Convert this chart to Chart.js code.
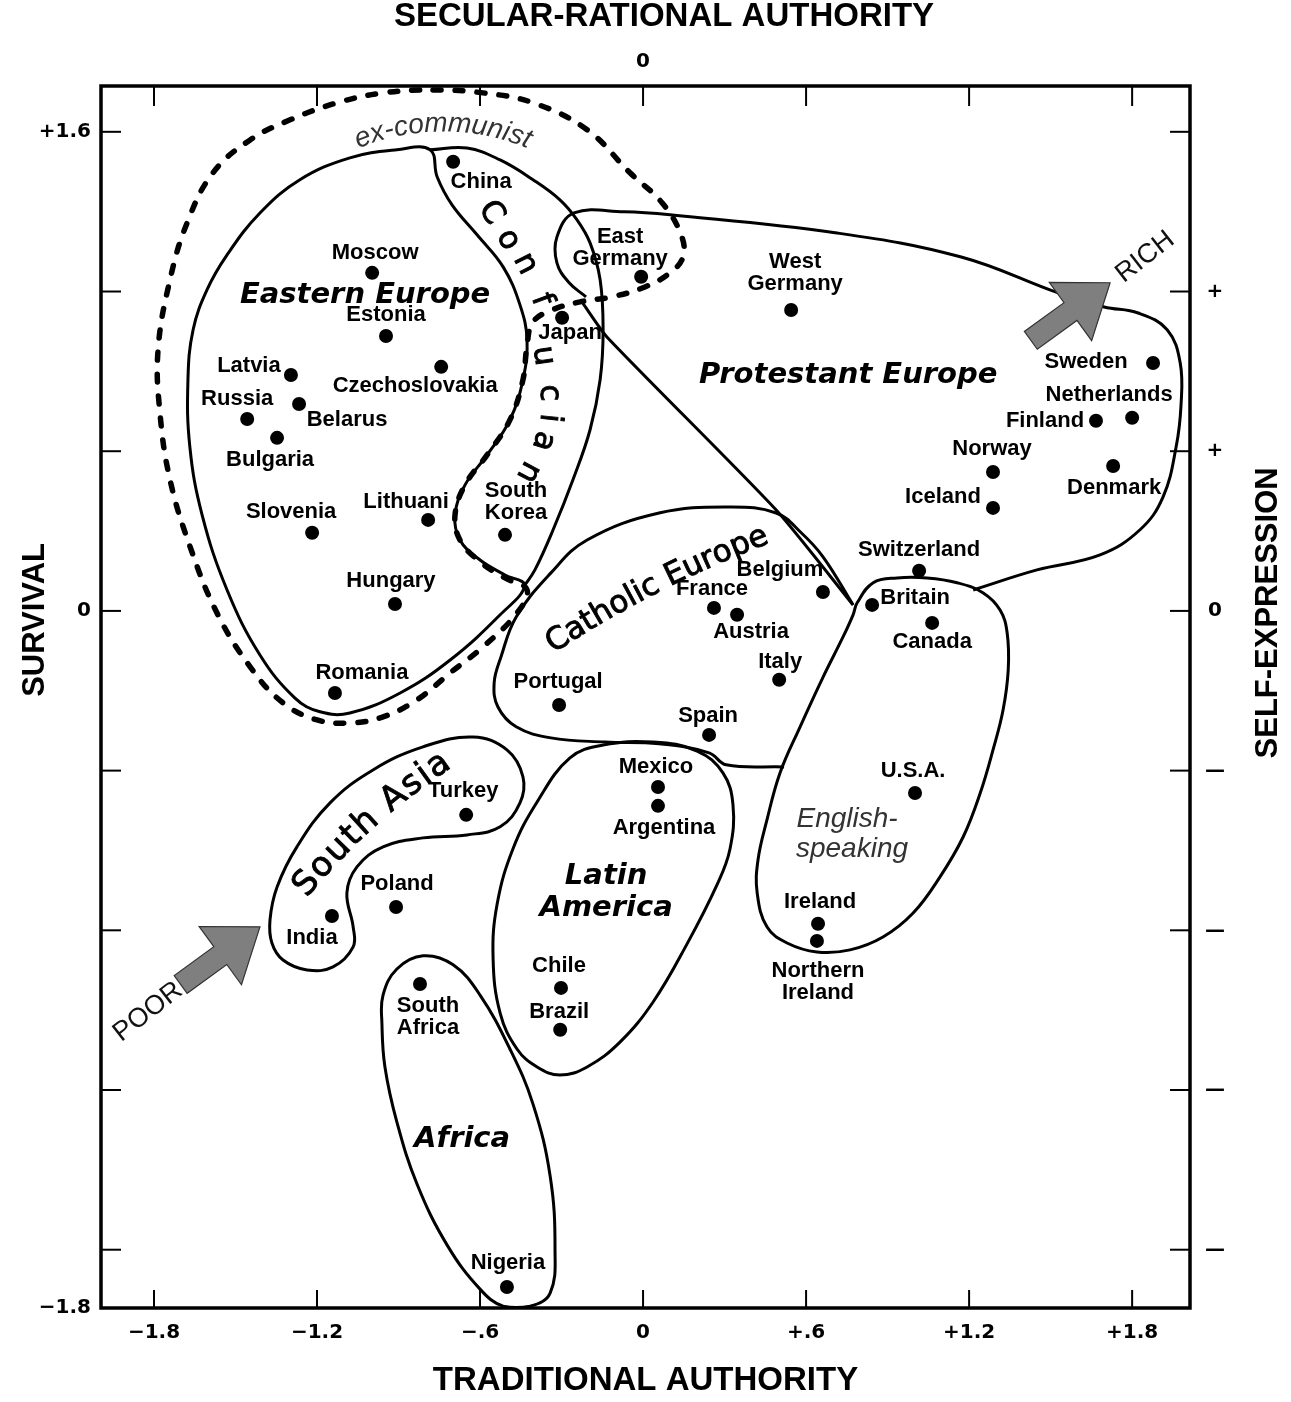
<!DOCTYPE html>
<html lang="en">
<head>
<meta charset="UTF-8">
<title>Cultural map</title>
<script src="https://cdn.jsdelivr.net/npm/chart.js"></script>
<style>
  body { margin: 0; background: #fff; }
  .wrap { width: 1291px; height: 1402px; position: relative; }
</style>
</head>
<body>
<div class="wrap"><canvas id="map"></canvas></div>
<script>
// x: survival (-) to self-expression (+), y: traditional (-) to secular-rational (+)
const countries = ['China', 'Moscow', 'Estonia', 'Czechoslovakia', 'Latvia', 'Belarus', 'Russia', 'Bulgaria',
  'Slovenia', 'Lithuani', 'South\nKorea', 'Hungary', 'Romania', 'Japan', 'East\nGermany', 'West\nGermany',
  'Sweden', 'Netherlands', 'Finland', 'Denmark', 'Norway', 'Iceland', 'Switzerland', 'Belgium', 'France',
  'Austria', 'Britain', 'Canada', 'Italy', 'Portugal', 'Spain', 'U.S.A.', 'Mexico', 'Argentina', 'Turkey',
  'Poland', 'India', 'Ireland', 'Northern\nIreland', 'Chile', 'Brazil', 'South\nAfrica', 'Nigeria'];
const survivalSelfExpression = [-0.699, -0.997, -0.946, -0.743, -1.296, -1.266, -1.457, -1.347,
  -1.218, -0.791, -0.508, -0.913, -1.134, -0.298, -0.007, 0.545,
  1.877, 1.800, 1.667, 1.730, 1.288, 1.288, 1.016, 0.662, 0.261,
  0.346, 0.843, 1.064, 0.501, -0.309, 0.243, 1.001, 0.055, 0.055, -0.651,
  -0.909, -1.145, 0.644, 0.640, -0.302, -0.305, -0.821, -0.501];
const traditionalSecular = [1.500, 1.129, 0.918, 0.815, 0.788, 0.691, 0.641, 0.578,
  0.261, 0.304, 0.254, 0.023, -0.274, 0.979, 1.116, 1.005,
  0.828, 0.645, 0.635, 0.484, 0.464, 0.344, 0.134, 0.063, 0.010,
  -0.013, 0.020, -0.040, -0.230, -0.314, -0.414, -0.608, -0.588, -0.651, -0.681,
  -0.989, -1.019, -1.045, -1.102, -1.259, -1.399, -1.246, -2.258];

// label placement around each dot, in pixels
const labelOffsets = [[28, 20], [3, -20], [0, -21], [-26, 19], [-42, -9], [48, 16], [-10, -20], [-7, 22],
  [-21, -21], [-22, -18], [11, -33], [-4, -23], [27, -20], [8, 15], [-21, -29], [4, -37],
  [-67, -1], [-23, -23], [-51, 0], [1, 22], [-1, -23], [-50, -11], [0, -21], [-43, -22], [-2, -19],
  [14, 17], [43, -7], [0, 19], [1, -18], [-1, -23], [-1, -19], [-2, -22], [-2, -20], [6, 22], [-3, -24],
  [1, -23], [-20, 22], [2, -22], [1, 41], [-2, -22], [-1, -18], [8, 33], [1, -24]];

// axes
const xTicks = [-1.8, -1.2, -0.6, 0, 0.6, 1.2, 1.8];
const xTickLabels = ['\u22121.8', '\u22121.2', '\u2212.6', '0', '+.6', '+1.2', '+1.8'];
const yStep = 1.6 / 3;
const yMarkSteps = [3, 2, 1, 0, -1, -2, -3, -4];
const leftTickLabels = ['+1.6', '0', '\u22121.8'];
const rightTickSteps = [2, 1, 0, -1, -2, -3, -4];
const rightTickLabels = ['+', '+', '0', '\u2014', '\u2014', '\u2014', '\u2014'];

// cultural zone outlines
const easternEurope = [[-0.906,1.540],[-0.784,1.540],[-0.758,1.450],[-0.703,1.356],[-0.611,1.256],[-0.515,1.149],
  [-0.453,1.022],[-0.427,0.905],[-0.442,0.772],[-0.490,0.638],[-0.574,0.521],[-0.655,0.421],[-0.692,0.321],
  [-0.674,0.237],[-0.600,0.170],[-0.508,0.120],[-0.436,0.085],[-0.526,-0.013],[-0.710,-0.164],[-0.894,-0.274],
  [-1.079,-0.341],[-1.189,-0.337],[-1.281,-0.291],[-1.410,-0.147],[-1.531,0.070],[-1.623,0.321],[-1.668,0.548],
  [-1.675,0.772],[-1.656,0.939],[-1.605,1.072],[-1.531,1.189],[-1.410,1.329],[-1.263,1.440],[-1.079,1.513]];
const confucian = [[-0.784,1.540],[-0.648,1.546],[-0.526,1.506],[-0.405,1.440],[-0.306,1.373],[-0.243,1.306],
  [-0.195,1.229],[-0.158,1.106],[-0.147,0.939],[-0.158,0.772],[-0.195,0.605],[-0.258,0.438],[-0.331,0.271],
  [-0.398,0.137],[-0.436,0.085]];
const exCommunist = [[-0.773,1.740],[-0.589,1.730],[-0.405,1.697],[-0.206,1.607],[-0.048,1.463],[0.070,1.363],
  [0.140,1.256],[0.147,1.182],[0.099,1.129],[0.007,1.082],[-0.114,1.049],[-0.232,1.032],[-0.335,1.005],
  [-0.405,0.965],[-0.427,0.888],[-0.442,0.772],[-0.490,0.638],[-0.574,0.521],[-0.655,0.421],[-0.692,0.321],
  [-0.674,0.237],[-0.600,0.164],[-0.508,0.110],[-0.427,0.070],[-0.464,-0.007],[-0.589,-0.120],[-0.710,-0.207],
  [-0.832,-0.297],[-0.957,-0.354],[-1.078,-0.374],[-1.200,-0.364],[-1.325,-0.307],[-1.446,-0.187],[-1.568,-0.007],
  [-1.667,0.214],[-1.741,0.438],[-1.778,0.661],[-1.785,0.872],[-1.741,1.106],[-1.678,1.296],[-1.583,1.463],
  [-1.446,1.573],[-1.299,1.640],[-1.126,1.697],[-0.957,1.730]];
const protestantEurope = [[1.215,0.070],[1.450,0.137],[1.682,0.187],[1.829,0.271],[1.914,0.381],[1.962,0.548],
  [1.980,0.688],[1.977,0.828],[1.929,0.939],[1.822,0.995],[1.697,1.015],[1.528,1.062],[1.171,1.182],[0.707,1.263],
  [0.099,1.323],[-0.070,1.333],[-0.254,1.329],[-0.317,1.249],[-0.317,1.162],[-0.272,1.096],[-0.210,1.049]];
const protestantDivide = [[-0.225,1.032],[-0.133,0.915],[0.490,0.337],[0.773,0.020]];
const catholicEurope = [[0.519,-0.521],[0.306,-0.514],[0.243,-0.474],[0.059,-0.444],[-0.140,-0.438],[-0.339,-0.424],
  [-0.467,-0.387],[-0.534,-0.321],[-0.548,-0.240],[-0.523,-0.154],[-0.467,-0.020],[-0.339,0.127],[-0.206,0.237],
  [0.059,0.327],[0.320,0.347],[0.490,0.327],[0.582,0.261],[0.663,0.180],[0.773,0.020]];
const englishSpeaking = [[0.788,0.027],[0.847,0.094],[0.935,0.110],[1.045,0.110],[1.156,0.094],[1.252,0.060],
  [1.314,0.003],[1.340,-0.073],[1.344,-0.197],[1.325,-0.331],[1.288,-0.464],[1.241,-0.608],[1.178,-0.755],
  [1.093,-0.888],[0.994,-1.009],[0.883,-1.089],[0.762,-1.132],[0.640,-1.139],[0.530,-1.109],[0.456,-1.055],
  [0.420,-0.942],[0.423,-0.832],[0.456,-0.698],[0.504,-0.541],[0.578,-0.387],[0.663,-0.220],[0.736,-0.087],
  [0.773,-0.013]];
const southAsia = [[-1.373,-1.032],[-1.347,-0.922],[-1.274,-0.788],[-1.152,-0.641],[-0.994,-0.531],[-0.810,-0.454],
  [-0.626,-0.421],[-0.501,-0.464],[-0.442,-0.554],[-0.453,-0.641],[-0.526,-0.721],[-0.648,-0.748],[-0.810,-0.758],
  [-0.957,-0.788],[-1.053,-0.855],[-1.090,-0.942],[-1.067,-1.055],[-1.067,-1.122],[-1.141,-1.189],[-1.237,-1.199],
  [-1.325,-1.166],[-1.366,-1.109]];
const latinAmerica = [[-0.269,-0.491],[-0.147,-0.448],[0.037,-0.438],[0.199,-0.468],[0.294,-0.541],[0.331,-0.648],
  [0.320,-0.795],[0.272,-0.915],[0.162,-1.112],[0.037,-1.306],[-0.085,-1.440],[-0.206,-1.523],[-0.306,-1.550],
  [-0.390,-1.523],[-0.464,-1.463],[-0.526,-1.343],[-0.552,-1.159],[-0.537,-0.979],[-0.479,-0.795],[-0.390,-0.638]];
const africa = [[-0.957,-1.283],[-0.906,-1.196],[-0.810,-1.152],[-0.699,-1.182],[-0.600,-1.283],[-0.490,-1.463],
  [-0.405,-1.647],[-0.342,-1.887],[-0.324,-2.131],[-0.342,-2.278],[-0.416,-2.322],[-0.515,-2.322],[-0.600,-2.265],
  [-0.721,-2.118],[-0.832,-1.914],[-0.906,-1.707],[-0.950,-1.523],[-0.961,-1.379]];

const outlines = [
  { pts: easternEurope, closed: true },
  { pts: confucian },
  { pts: protestantEurope },
  { pts: protestantDivide, tension: 0.2 },
  { pts: catholicEurope },
  { pts: englishSpeaking, closed: true },
  { pts: southAsia, closed: true },
  { pts: latinAmerica, closed: true },
  { pts: africa, closed: true },
  { pts: exCommunist, closed: true, dashed: true }
];

// zone names
const zoneLabels = [
  { text: 'Eastern Europe', x: -1.023, y: 1.055 },
  { text: 'Protestant Europe', x: 0.755, y: 0.785 },
  { text: 'Latin', x: -0.136, y: -0.888 },
  { text: 'America', x: -0.136, y: -0.995 },
  { text: 'Africa', x: -0.666, y: -1.764 }
];
const englishLines = [{ text: 'English-', x: 0.751, y: -0.695 }, { text: 'speaking', x: 0.769, y: -0.795 }];
const confucianLetters = [['C', -0.560, 1.329, 57], ['o', -0.497, 1.239, 60], ['n', -0.434, 1.159, 63],
  ['f', -0.375, 1.039, 70], ['u', -0.368, 0.852, 82], ['c', -0.346, 0.728, 88], ['i', -0.346, 0.645, 96],
  ['a', -0.368, 0.568, 106], ['n', -0.423, 0.464, 118]];

function outlineDataset(o) {
  let pts = o.pts.map(p => ({ x: p[0], y: p[1] }));
  let last = -1;
  if (o.closed) {
    const n = pts.length;
    pts = [pts[n - 1], ...pts, pts[0], pts[1]];
    last = pts.length - 1;
  }
  return {
    type: 'scatter',
    data: pts,
    showLine: true,
    pointRadius: 0,
    pointHoverRadius: 0,
    borderColor: '#000',
    borderWidth: o.dashed ? 5.5 : 3,
    borderDash: o.dashed ? [8, 14] : [],
    borderCapStyle: o.dashed ? 'round' : 'butt',
    borderJoinStyle: 'round',
    tension: o.tension ?? 0.4,
    fill: false,
    order: 2,
    segment: o.closed ? {
      borderColor: c => (c.p0DataIndex === 0 || c.p1DataIndex === last) ? 'rgba(0,0,0,0)' : undefined
    } : {}
  };
}

const tickFont = { family: 'DejaVu Sans', size: 20, weight: 'bold' };

function arcText(ctx, text, ax, ay, tangentDeg, radius, spacing, outline) {
  const t = tangentDeg * Math.PI / 180;
  const cx = ax - radius * Math.sin(t), cy = ay + radius * Math.cos(t);
  const chars = [...text];
  const widths = chars.map(ch => ctx.measureText(ch).width);
  const total = widths.reduce((s, w) => s + w, 0) + spacing * (chars.length - 1);
  let phi = t - Math.PI / 2 - total / (2 * radius);
  chars.forEach((ch, i) => {
    const mid = phi + widths[i] / 2 / radius;
    ctx.save();
    ctx.translate(cx + radius * Math.cos(mid), cy + radius * Math.sin(mid));
    ctx.rotate(mid + Math.PI / 2);
    ctx.fillText(ch, 0, 0);
    if (outline) ctx.strokeText(ch, 0, 0);
    ctx.restore();
    phi += (widths[i] + spacing) / radius;
  });
}

function drawArrow(ctx, x, y, angleDeg) {
  const L = 98, headL = 49, headW = 36, shaftW = 11;
  ctx.save();
  ctx.translate(x, y);
  ctx.rotate(angleDeg * Math.PI / 180);
  ctx.beginPath();
  ctx.moveTo(0, 0);
  ctx.lineTo(-headL, -headW);
  ctx.lineTo(-headL, -shaftW);
  ctx.lineTo(-L, -shaftW);
  ctx.lineTo(-L, shaftW);
  ctx.lineTo(-headL, shaftW);
  ctx.lineTo(-headL, headW);
  ctx.closePath();
  ctx.fillStyle = '#7f7f7f';
  ctx.fill();
  ctx.lineWidth = 1.2;
  ctx.strokeStyle = '#333';
  ctx.stroke();
  ctx.restore();
}

const decorations = {
  id: 'decorations',
  afterDatasetsDraw(chart) {
    const { ctx, chartArea: a, scales } = chart;
    const X = v => scales.x.getPixelForValue(v);
    const Y = v => scales.y.getPixelForValue(v);
    const seg = (x1, y1, x2, y2) => { ctx.beginPath(); ctx.moveTo(x1, y1); ctx.lineTo(x2, y2); ctx.stroke(); };
    ctx.save();

    // poor / rich arrows
    drawArrow(ctx, X(-1.410), Y(-1.055), -36);
    drawArrow(ctx, X(1.719), Y(1.096), -36);
    ctx.fillStyle = '#111';
    ctx.font = '27px "Liberation Sans", Arial, sans-serif';
    ctx.textAlign = 'center';
    ctx.textBaseline = 'middle';
    [['POOR', -1.822, -1.339], ['RICH', 1.848, 1.182]].forEach(([t, vx, vy]) => {
      ctx.save();
      ctx.translate(X(vx), Y(vy));
      ctx.rotate(-38 * Math.PI / 180);
      ctx.fillText(t, 0, 0);
      ctx.restore();
    });

    // inner tick marks and frame
    ctx.strokeStyle = '#000';
    ctx.lineWidth = 2;
    xTicks.forEach(v => {
      const px = X(v);
      seg(px, a.bottom, px, a.bottom - 18);
      seg(px, a.top, px, a.top + 20);
    });
    yMarkSteps.forEach(k => {
      const py = Y(k * yStep);
      seg(a.left, py, a.left + 20, py);
      seg(a.right, py, a.right - 20, py);
    });
    ctx.lineWidth = 3.5;
    ctx.strokeRect(a.left, a.top, a.right - a.left, a.bottom - a.top);

    // country names
    ctx.fillStyle = '#000';
    ctx.font = 'bold 22px "Liberation Sans", Arial, sans-serif';
    countries.forEach((name, i) => {
      const lines = name.split('\n');
      const cx = X(survivalSelfExpression[i]) + labelOffsets[i][0];
      const cy = Y(traditionalSecular[i]) + labelOffsets[i][1];
      lines.forEach((ln, j) => ctx.fillText(ln, cx, cy + (j - (lines.length - 1) / 2) * 22));
    });

    // zone names
    ctx.font = 'bold italic 29px "DejaVu Sans", sans-serif';
    zoneLabels.forEach(z => ctx.fillText(z.text, X(z.x), Y(z.y)));
    ctx.fillStyle = '#333';
    ctx.font = 'italic 28px "Liberation Sans", Arial, sans-serif';
    englishLines.forEach(z => ctx.fillText(z.text, X(z.x), Y(z.y)));
    arcText(ctx, 'ex-communist', X(-0.736), Y(1.627), 0, 230, 0.5, false);

    ctx.fillStyle = '#000';
    ctx.strokeStyle = '#000';
    ctx.lineWidth = 0.9;
    ctx.font = '31px "DejaVu Sans", sans-serif';
    arcText(ctx, 'Catholic Europe', X(0.044), Y(0.087), -27, 1100, 0, true);
    ctx.font = '34px "DejaVu Sans", sans-serif';
    arcText(ctx, 'South Asia', X(-1.010), Y(-0.700), -42, 660, 2, true);
    ctx.font = '31px "DejaVu Sans", sans-serif';
    confucianLetters.forEach(([ch, vx, vy, ang]) => {
      ctx.save();
      ctx.translate(X(vx), Y(vy));
      ctx.rotate(ang * Math.PI / 180);
      ctx.fillText(ch, 0, 0);
      ctx.strokeText(ch, 0, 0);
      ctx.restore();
    });

    // axis titles
    ctx.font = 'bold 33px "Liberation Sans", Arial, sans-serif';
    ctx.fillText('SECULAR-RATIONAL AUTHORITY', 664, a.top - 69);
    ctx.fillText('TRADITIONAL AUTHORITY', (a.left + a.right) / 2, a.bottom + 73);
    ctx.font = 'bold 31px "Liberation Sans", Arial, sans-serif';
    ctx.save();
    ctx.translate(35, Y(0) + 9);
    ctx.rotate(-Math.PI / 2);
    ctx.fillText('SURVIVAL', 0, 0);
    ctx.restore();
    ctx.save();
    ctx.translate(1268, Y(0) + 2);
    ctx.rotate(-Math.PI / 2);
    ctx.fillText('SELF-EXPRESSION', 0, 0);
    ctx.restore();

    ctx.restore();
  }
};

const dotData = countries.map((c, i) => ({ x: survivalSelfExpression[i], y: traditionalSecular[i] }));

new Chart(document.getElementById('map'), {
  type: 'scatter',
  data: {
    datasets: [
      { data: dotData, pointRadius: 7, pointHoverRadius: 7, pointBackgroundColor: '#000', pointBorderWidth: 0, order: 0 },
      ...outlines.map(outlineDataset)
    ]
  },
  options: {
    responsive: true,
    maintainAspectRatio: false,
    animation: false,
    events: [],
    layout: { padding: 0 },
    plugins: { legend: { display: false }, tooltip: { enabled: false } },
    scales: {
      x: {
        type: 'linear', position: 'bottom', min: -1.995, max: 2.013,
        afterBuildTicks: s => { s.ticks = xTicks.map(v => ({ value: v })); },
        afterFit: s => { s.height = 94; },
        grid: { display: false, drawTicks: false }, border: { display: false },
        ticks: { callback: (v, i) => xTickLabels[i], font: tickFont, color: '#000', padding: 13, maxRotation: 0, autoSkip: false }
      },
      x2: {
        type: 'linear', position: 'top', min: -1.995, max: 2.013,
        afterBuildTicks: s => { s.ticks = [{ value: 0 }]; },
        afterFit: s => { s.height = 86; },
        grid: { display: false, drawTicks: false }, border: { display: false },
        ticks: { callback: () => '0', font: tickFont, color: '#000', padding: 12, maxRotation: 0 }
      },
      y: {
        type: 'linear', position: 'left', min: -2.328, max: 1.753,
        afterBuildTicks: s => { s.ticks = [{ value: 1.6 }, { value: 0 }, { value: s.min }]; },
        afterFit: s => { s.width = 101; },
        grid: { display: false, drawTicks: false }, border: { display: false },
        ticks: { callback: (v, i) => leftTickLabels[i], font: tickFont, color: '#000', padding: 10, autoSkip: false }
      },
      y2: {
        type: 'linear', position: 'right', min: -2.328, max: 1.753,
        afterBuildTicks: s => { s.ticks = rightTickSteps.map(k => ({ value: k * yStep })); },
        afterFit: s => { s.width = 101; },
        grid: { display: false, drawTicks: false }, border: { display: false },
        ticks: { callback: (v, i) => rightTickLabels[i], font: tickFont, color: '#000', padding: 15, crossAlign: 'center', autoSkip: false }
      }
    }
  },
  plugins: [decorations]
});
</script>
</body>
</html>
